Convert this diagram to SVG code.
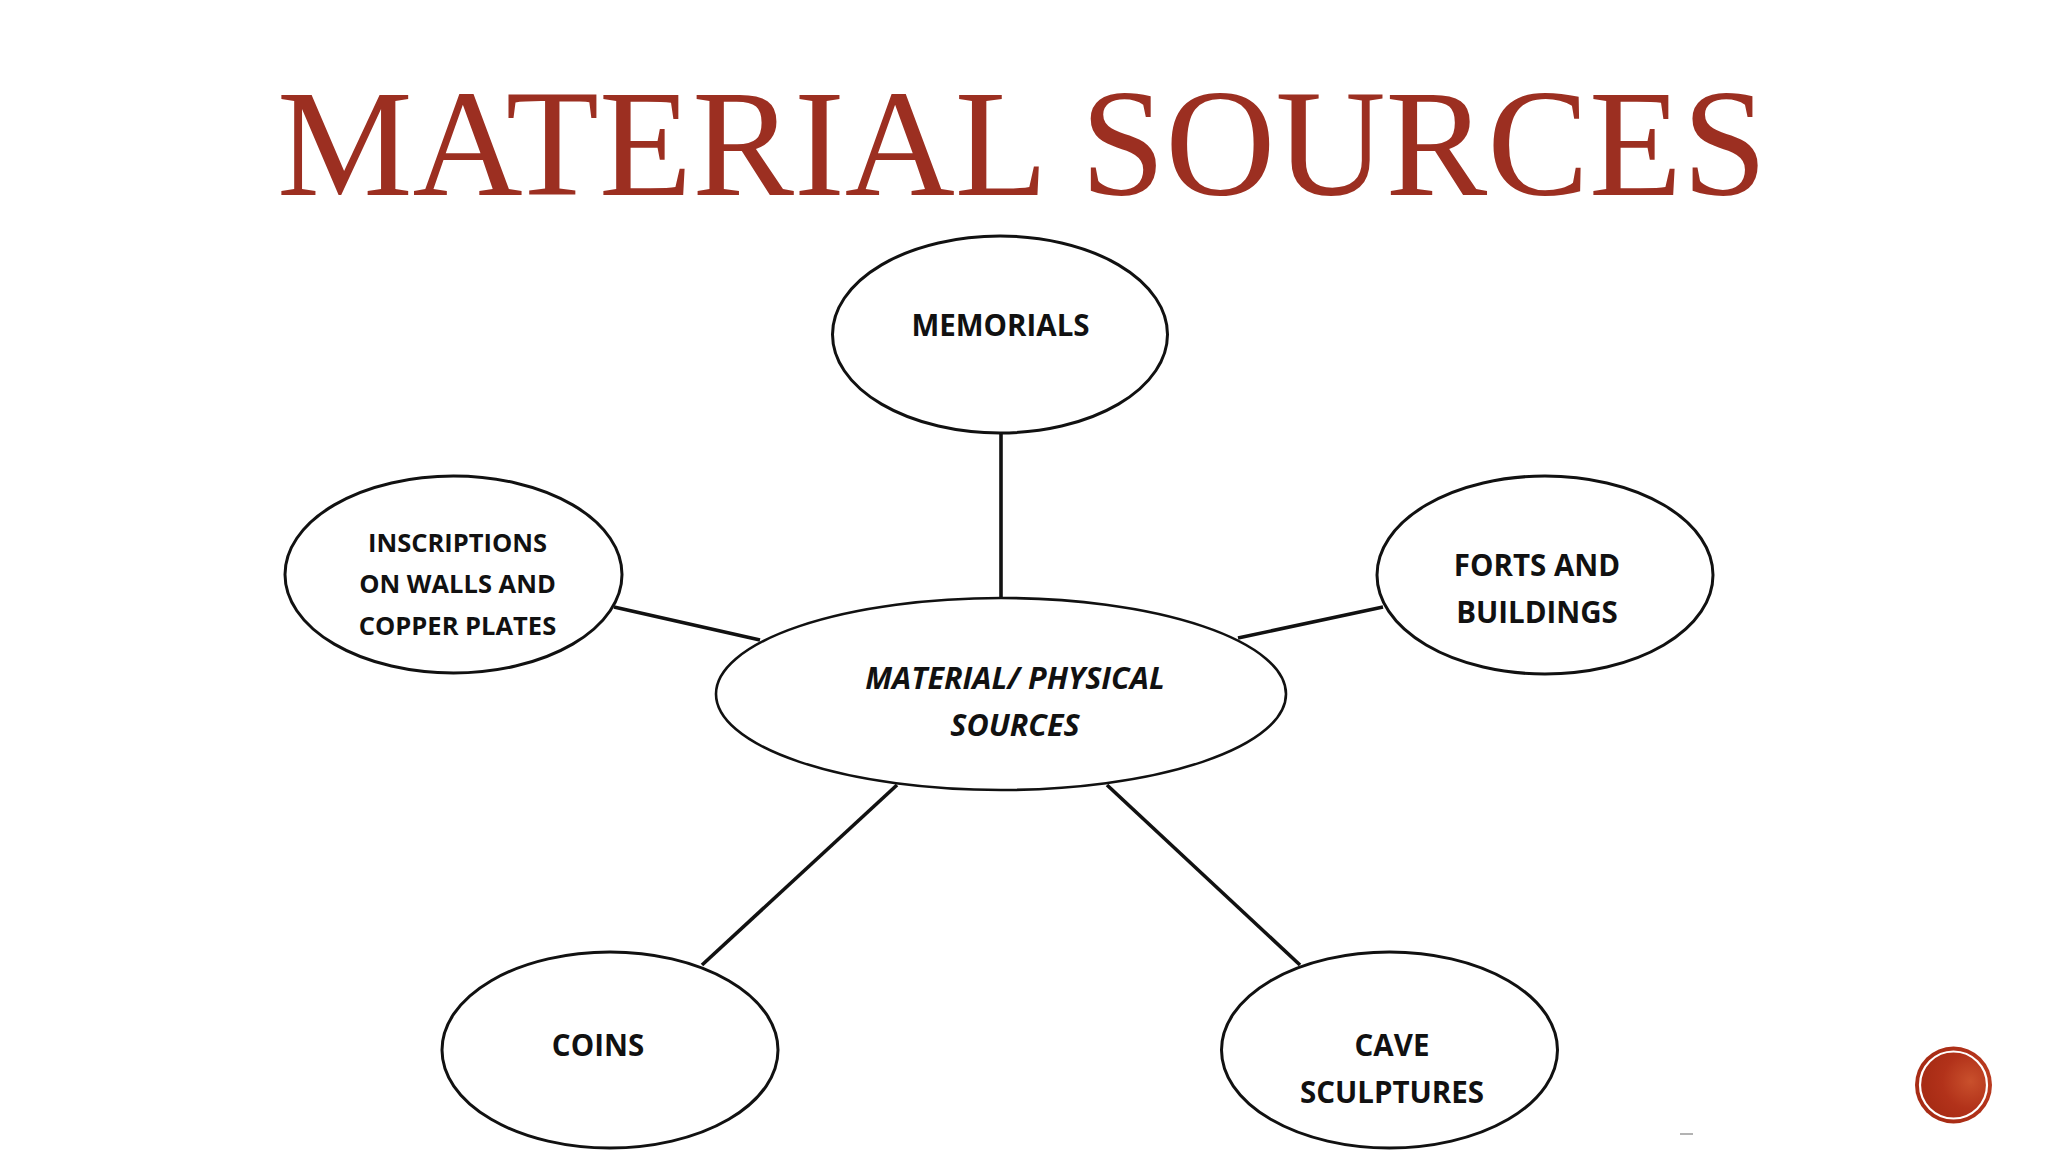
<svg xmlns="http://www.w3.org/2000/svg" width="2048" height="1152" viewBox="0 0 2048 1152">
  <defs>
    <style>
      .node { fill: #ffffff; stroke: #111111; stroke-width: 3; }
      .lbl { font-family: "Open Sans", "Liberation Sans", sans-serif; font-weight: 700; fill: #111111; text-anchor: middle; }
      .conn { stroke: #111111; stroke-width: 3.6; stroke-linecap: butt; }
      .title { font-family: "Liberation Serif", "DejaVu Serif", serif; fill: #9c2f21; }
    </style>
    <radialGradient id="btnGrad" cx="0.72" cy="0.45" r="0.6">
      <stop offset="0" stop-color="#c9502c"/>
      <stop offset="0.6" stop-color="#b2321a"/>
      <stop offset="1" stop-color="#a82c15"/>
    </radialGradient>
  </defs>
  <rect x="0" y="0" width="2048" height="1152" fill="#ffffff"/>

  <text class="title" x="277" y="195" font-size="153" textLength="1490" lengthAdjust="spacingAndGlyphs">MATERIAL SOURCES</text>

  <g id="connectors">
    <line class="conn" x1="1001" y1="432" x2="1001" y2="598"/>
    <line class="conn" x1="614" y1="607" x2="760" y2="640"/>
    <line class="conn" x1="1383" y1="607" x2="1238" y2="638"/>
    <line class="conn" x1="702" y1="965" x2="897" y2="785"/>
    <line class="conn" x1="1300" y1="965" x2="1107" y2="785"/>
  </g>

  <g id="node-center">
    <ellipse class="node" cx="1001" cy="694" rx="285" ry="96" style="stroke-width:2.6"/>
    <text class="lbl" x="1015" y="689" font-size="30.5" font-style="italic">MATERIAL/ PHYSICAL</text>
    <text class="lbl" x="1015" y="736" font-size="30.5" font-style="italic">SOURCES</text>
  </g>

  <g id="node-memorials">
    <ellipse class="node" cx="1000" cy="334.5" rx="167.5" ry="98.5"/>
    <text class="lbl" x="1000.5" y="336" font-size="29.5">MEMORIALS</text>
  </g>

  <g id="node-inscriptions">
    <ellipse class="node" cx="453.5" cy="574.5" rx="168.5" ry="98.5"/>
    <text class="lbl" x="457.5" y="552" font-size="25.5">INSCRIPTIONS</text>
    <text class="lbl" x="457.5" y="593" font-size="25.5">ON WALLS AND</text>
    <text class="lbl" x="457.5" y="635" font-size="25.5">COPPER PLATES</text>
  </g>

  <g id="node-forts">
    <ellipse class="node" cx="1545" cy="575" rx="168" ry="99"/>
    <text class="lbl" x="1537" y="576" font-size="29.5">FORTS AND</text>
    <text class="lbl" x="1537" y="623" font-size="29.5">BUILDINGS</text>
  </g>

  <g id="node-coins">
    <ellipse class="node" cx="610" cy="1050" rx="168" ry="98"/>
    <text class="lbl" x="598" y="1056" font-size="29.5">COINS</text>
  </g>

  <g id="node-cave">
    <ellipse class="node" cx="1389.5" cy="1050" rx="168" ry="98"/>
    <text class="lbl" x="1392" y="1056" font-size="29.5">CAVE</text>
    <text class="lbl" x="1392" y="1103" font-size="29.5">SCULPTURES</text>
  </g>

  <g id="nav-button">
    <circle cx="1953.5" cy="1085" r="38.5" fill="url(#btnGrad)"/>
    <circle cx="1953.5" cy="1085" r="33.5" fill="none" stroke="#ffffff" stroke-width="2.2"/>
  </g>
  <line x1="1680" y1="1134" x2="1693" y2="1134" stroke="#9a9a9a" stroke-width="1.5"/>
</svg>
